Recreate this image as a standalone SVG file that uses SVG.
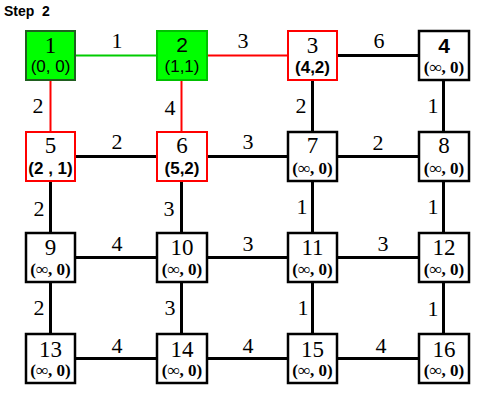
<svg xmlns="http://www.w3.org/2000/svg" width="500" height="400" viewBox="0 0 500 400">
<style>
.e{stroke:#000;stroke-width:3;fill:none}
.er{stroke:#ff0000;stroke-width:2;fill:none}
.eg{stroke:#00cc00;stroke-width:2;fill:none}
.b{fill:#fff;stroke:#000;stroke-width:2.5}
.br{fill:#fff;stroke:#ff0000;stroke-width:2}
.n{font-family:"Liberation Serif",serif;font-size:23px;text-anchor:middle;fill:#000}
.ns{font-family:"Liberation Sans",sans-serif;font-size:21px;text-anchor:middle;fill:#000}
.s{font-family:"Liberation Serif",serif;font-size:17px;font-weight:bold;text-anchor:middle;fill:#000}
.ss{font-family:"Liberation Sans",sans-serif;font-size:17px;text-anchor:middle;fill:#000}
.l{font-family:"Liberation Serif",serif;font-size:22px;text-anchor:middle;fill:#000}
</style>
<rect width="500" height="400" fill="#fff"/>
<text x="4" y="16" font-family="Liberation Sans, sans-serif" font-size="14" font-weight="bold" xml:space="preserve">Step  2</text>
<g id="edges">
<line class="eg" x1="75" y1="55.5" x2="157" y2="55.5"/>
<line class="er" x1="207" y1="55.5" x2="288" y2="55.5"/>
<line class="e" x1="337" y1="55.5" x2="419" y2="55.5"/>
<line class="e" x1="75" y1="156.5" x2="157" y2="156.5"/>
<line class="e" x1="207" y1="156.5" x2="288" y2="156.5"/>
<line class="e" x1="337" y1="156.5" x2="419" y2="156.5"/>
<line class="e" x1="75" y1="257.5" x2="157" y2="257.5"/>
<line class="e" x1="207" y1="257.5" x2="288" y2="257.5"/>
<line class="e" x1="337" y1="257.5" x2="419" y2="257.5"/>
<line class="e" x1="75" y1="358.5" x2="157" y2="358.5"/>
<line class="e" x1="207" y1="358.5" x2="288" y2="358.5"/>
<line class="e" x1="337" y1="358.5" x2="419" y2="358.5"/>
<line class="er" x1="50.5" y1="80" x2="50.5" y2="132"/>
<line class="er" x1="181.5" y1="80" x2="181.5" y2="132"/>
<line class="e" x1="312.5" y1="80" x2="312.5" y2="132"/>
<line class="e" x1="443.5" y1="80" x2="443.5" y2="132"/>
<line class="e" x1="50.5" y1="181" x2="50.5" y2="233"/>
<line class="e" x1="181.5" y1="181" x2="181.5" y2="233"/>
<line class="e" x1="312.5" y1="181" x2="312.5" y2="233"/>
<line class="e" x1="443.5" y1="181" x2="443.5" y2="233"/>
<line class="e" x1="50.5" y1="282" x2="50.5" y2="334"/>
<line class="e" x1="181.5" y1="282" x2="181.5" y2="334"/>
<line class="e" x1="312.5" y1="282" x2="312.5" y2="334"/>
<line class="e" x1="443.5" y1="282" x2="443.5" y2="334"/>
<text class="l" x="117" y="48">1</text>
<text class="l" x="243" y="48">3</text>
<text class="l" x="379" y="48">6</text>
<text class="l" x="38" y="113">2</text>
<text class="l" x="170" y="115">4</text>
<text class="l" x="301" y="113">2</text>
<text class="l" x="433" y="113">1</text>
<text class="l" x="117" y="149">2</text>
<text class="l" x="248" y="149">3</text>
<text class="l" x="378" y="150">2</text>
<text class="l" x="39" y="216">2</text>
<text class="l" x="169" y="216">3</text>
<text class="l" x="302" y="214">1</text>
<text class="l" x="433" y="214">1</text>
<text class="l" x="117" y="251">4</text>
<text class="l" x="248" y="251">3</text>
<text class="l" x="383" y="251">3</text>
<text class="l" x="39" y="315">2</text>
<text class="l" x="170" y="315">3</text>
<text class="l" x="303" y="315">1</text>
<text class="l" x="433" y="316">1</text>
<text class="l" x="117" y="353">4</text>
<text class="l" x="248" y="353">4</text>
<text class="l" x="381" y="353">4</text>
</g>
<g id="node1"><rect x="26" y="31" width="49" height="49" fill="#00ff00" stroke="#1f5f1f" stroke-width="2"/><text class="n" x="50.5" y="53" font-size="25">1</text><text class="ss" x="50.5" y="72">(0, 0)</text></g>
<g id="node2"><rect x="157" y="31" width="50" height="49" fill="#00ff00" stroke="#00c000" stroke-width="2"/><text class="ns" x="182" y="52">2</text><text class="ss" x="182" y="72">(1,1)</text></g>
<g id="node3"><rect class="br" x="288" y="31" width="49" height="49"/><text class="n" x="312.5" y="53">3</text><text class="ss" x="312.5" y="73" font-weight="bold">(4,2)</text></g>
<g id="node4"><rect class="b" x="419" y="31" width="50" height="49"/><text class="ns" x="444" y="53" font-weight="bold" font-size="19">4</text><text class="s" x="444" y="73">(∞, 0)</text></g>
<g id="node5"><rect class="br" x="26" y="132" width="49" height="49"/><text class="n" x="50.5" y="153">5</text><text class="ss" x="50.5" y="174" font-weight="bold">(2 , 1)</text></g>
<g id="node6"><rect class="br" x="157" y="132" width="50" height="49"/><text class="n" x="182" y="153">6</text><text class="ss" x="182" y="174" font-weight="bold">(5,2)</text></g>
<g id="node7"><rect class="b" x="288" y="132" width="49" height="49"/><text class="n" x="312.5" y="153">7</text><text class="s" x="312.5" y="174">(∞, 0)</text></g>
<g id="node8"><rect class="b" x="419" y="132" width="50" height="49"/><text class="n" x="444" y="153">8</text><text class="s" x="444" y="174">(∞, 0)</text></g>
<g id="node9"><rect class="b" x="26" y="233" width="49" height="49"/><text class="n" x="50.5" y="255">9</text><text class="s" x="50.5" y="275">(∞, 0)</text></g>
<g id="node10"><rect class="b" x="157" y="233" width="50" height="49"/><text class="n" x="182" y="255">10</text><text class="s" x="182" y="275">(∞, 0)</text></g>
<g id="node11"><rect class="b" x="288" y="233" width="49" height="49"/><text class="n" x="312.5" y="255">11</text><text class="s" x="312.5" y="275">(∞, 0)</text></g>
<g id="node12"><rect class="b" x="419" y="233" width="50" height="49"/><text class="n" x="444" y="255">12</text><text class="s" x="444" y="275">(∞, 0)</text></g>
<g id="node13"><rect class="b" x="26" y="334" width="49" height="49"/><text class="n" x="50.5" y="357" font-size="25">13</text><text class="s" x="50.5" y="376">(∞, 0)</text></g>
<g id="node14"><rect class="b" x="157" y="334" width="50" height="49"/><text class="n" x="182" y="357" font-size="25">14</text><text class="s" x="182" y="376">(∞, 0)</text></g>
<g id="node15"><rect class="b" x="288" y="334" width="49" height="49"/><text class="n" x="312.5" y="357" font-size="25">15</text><text class="s" x="312.5" y="376">(∞, 0)</text></g>
<g id="node16"><rect class="b" x="419" y="334" width="50" height="49"/><text class="n" x="444" y="357" font-size="25">16</text><text class="s" x="444" y="376">(∞, 0)</text></g>
</svg>
